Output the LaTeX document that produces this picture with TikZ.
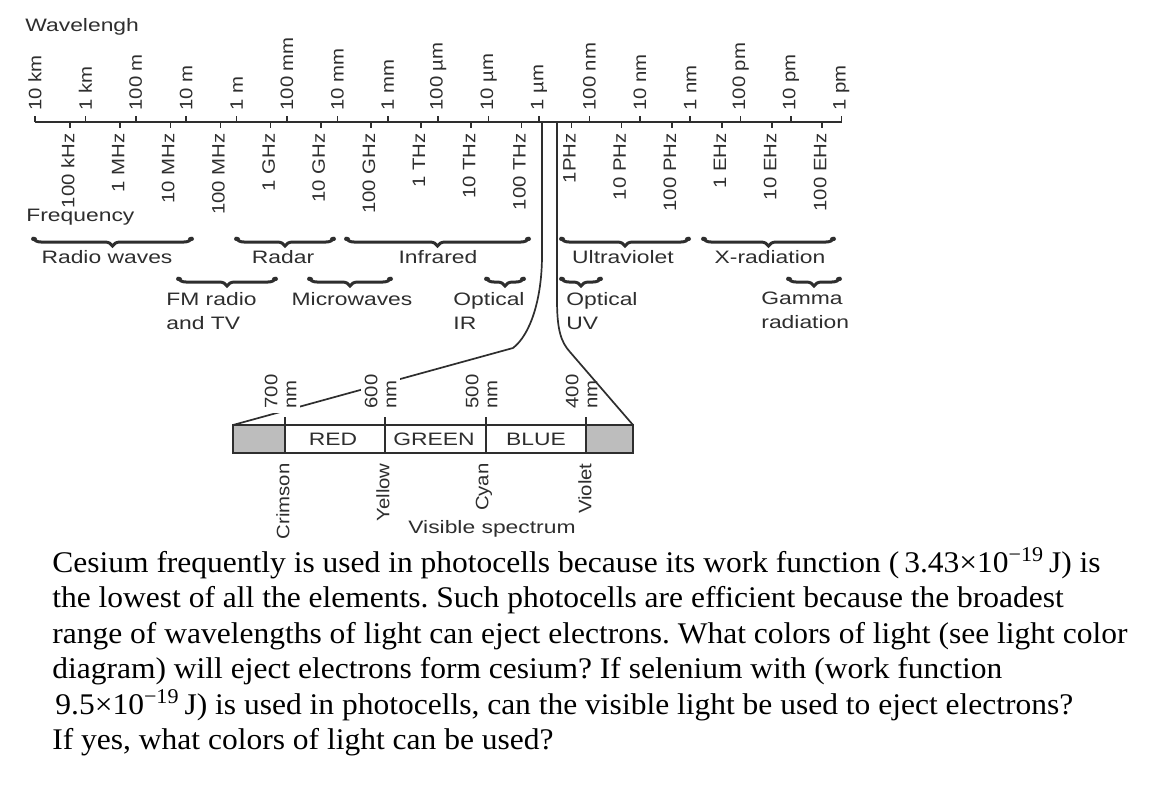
\documentclass[tikz,border=0pt]{standalone}
\usepackage{fontspec}
\setmainfont{Liberation Serif}[FakeStretch=1.05]
\newfontfamily\hfont{Liberation Sans}[FakeStretch=1.27]
\newfontfamily\vfont{Liberation Sans}[FakeStretch=1.13]
\usetikzlibrary{decorations.pathreplacing,calc}
\definecolor{ink}{gray}{0.18}
\definecolor{boxgray}{gray}{0.74}
\frenchspacing
\begin{document}
\begin{tikzpicture}[x=0.5pt,y=-0.5pt,
  htext/.style={font=\hfont\fontsize{9pt}{12pt}\selectfont, text=ink, inner sep=0pt},
  hml/.style={htext, align=left, anchor=north west},
  vtext/.style={font=\vfont\fontsize{9pt}{9.5pt}\selectfont, text=ink, inner sep=1pt, rotate=90},
  wlab/.style={vtext, anchor=west},
  flab/.style={vtext, anchor=east},
  axisline/.style={draw=ink, line width=0.9pt},
  tickline/.style={draw=ink, line width=0.8pt},
  bracestyle/.style={draw=ink, line width=1.5pt, line cap=round, decorate,
     decoration={brace, amplitude=4pt, mirror}},
  blob/.style={fill=ink},
  funnel/.style={draw=ink, line width=0.85pt},
  boxline/.style={draw=ink, line width=0.8pt},
  qtext/.style={font=\fontsize{15pt}{18pt}\selectfont, text=black, inner sep=0pt, anchor=base west}
]
\fill[white] (0,0) rectangle (1171,803);
\useasboundingbox (0,0) rectangle (1171,803);

% titles
\node[htext, anchor=west] (wtitle) at (25,27) {Wavelengh};
\node[htext, anchor=west] (ftitle) at (26,217) {Frequency};

% axis
\coordinate (axL) at (35,122);
\coordinate (axR) at (842,122);
\draw[axisline] (axL) -- (axR);

% wavelength ticks
\foreach \lab [count=\i from 0] in {10 km,1 km,100 m,10 m,1 m,100 mm,10 mm,1 mm,100 µm,10 µm,1 µm,100 nm,10 nm,1 nm,100 pm,10 pm,1 pm}{
  \coordinate (w\i) at ({35+50.4*\i},122);
  \draw[tickline] (w\i) -- ++(0,-6);
  \node[wlab] (wl\i) at ($(w\i)+(0,-9)$) {\lab};
}
% frequency ticks
\foreach \lab [count=\i from 0] in {100 kHz,1 MHz,10 MHz,100 MHz,1 GHz,10 GHz,100 GHz,1 THz,10 THz,100 THz,1PHz,10 PHz,100 PHz,1 EHz,10 EHz,100 EHz}{
  \coordinate (f\i) at ({70+50.15*\i},122);
  \draw[tickline] (f\i) -- ++(0,6);
  \node[flab] (fl\i) at ($(f\i)+(-2,9)$) {\lab};
}

% braces row 1
\coordinate (b1a) at (33,238);  \coordinate (b1b) at (192,238);
\coordinate (b2a) at (236,238); \coordinate (b2b) at (334,238);
\coordinate (b3a) at (346,238); \coordinate (b3b) at (529,238);
\coordinate (b4a) at (561,238); \coordinate (b4b) at (689,238);
\coordinate (b5a) at (703,238); \coordinate (b5b) at (834,238);
% braces row 2
\coordinate (c1a) at (178,278); \coordinate (c1b) at (276,278);
\coordinate (c2a) at (309,278); \coordinate (c2b) at (391,278);
\coordinate (c3a) at (486,278); \coordinate (c3b) at (524,278);
\coordinate (c4a) at (561,278); \coordinate (c4b) at (601,278);
\coordinate (c5a) at (788,278); \coordinate (c5b) at (840,278);
\foreach \p in {b1,b2,b3,b4,b5,c1,c2,c3,c4,c5}{
  \draw[bracestyle] (\p a) -- (\p b);
  \fill[blob] ($(\p a)+(1,1)$) ellipse [x radius=3, y radius=2.2];
  \fill[blob] ($(\p b)+(-1,1)$) ellipse [x radius=3, y radius=2.2];
}
\node[htext] (radio) at (107,257) {Radio waves};
\node[htext] (radar) at (283,257) {Radar};
\node[htext] (infra) at (438,257) {Infrared};
\node[htext] (ultra) at (623,257) {Ultraviolet};
\node[htext] (xray) at (770,257) {X-radiation};

\node[hml] (fm) at (166,292) {FM radio\\and TV};
\node[htext] (micro) at (352,299) {Microwaves};
\node[hml] (oir) at (453,292) {Optical\\IR};
\node[hml] (ouv) at (566,292) {Optical\\UV};
\node[hml] (gamma) at (761,292) {Gamma\\radiation};

% visible spectrum box
\coordinate (vtl) at (233,425);
\coordinate (vtr) at (633,425);
\coordinate (vbr) at (633,453);
\coordinate (um) at (542,122);
\coordinate (ph) at (557,122);
\draw[funnel] (um) -- (542,255) .. controls (542,300) and (530,335) .. (513,348) -- (vtl);

\fill[boxgray] (vtl) rectangle (285,453);
\fill[boxgray] (586,425) rectangle (vbr);
\draw[boxline] (vtl) rectangle (vbr);
\foreach \x/\n in {285/d7,385/d6,486/d5,586/d4}{
  \coordinate (\n) at (\x,417);
  \draw[boxline] (\n) -- (\x,453);
}
\node[vtext, anchor=west, align=left, fill=white, inner sep=2pt] (n700) at (280.5,413) {700\\nm};
\node[vtext, anchor=west, align=left, fill=white, inner sep=2pt] (n600) at (380.5,413) {600\\nm};
\node[vtext, anchor=west, align=left, inner sep=2pt] (n500) at (481.5,413) {500\\nm};
\node[vtext, anchor=west, align=left, inner sep=2pt] (n400) at (581.5,413) {400\\nm};
\draw[funnel] (ph) -- (557,300) .. controls (557,330) and (561,342) .. (570,352) -- (vtr);

\node[htext] (red) at (333,439) {RED};
\node[htext] (green) at (434,439) {GREEN};
\node[htext] (blue) at (536,439) {BLUE};

\node[flab] (crimson) at (283,461) {Crimson};
\node[flab] (yellow) at (383,461) {Yellow};
\node[flab] (cyan) at (484,461) {Cyan};
\node[flab] (violet) at (585,461) {Violet};
\node[htext] (vis) at (492,529) {Visible spectrum};

% question text
\node[qtext] (q1) at (52,572) {Cesium frequently is used in photocells because its work function (\,3.43×10\textsuperscript{−19}\,J) is};
\node[qtext] (q2) at (52,607.5) {the lowest of all the elements. Such photocells are efficient because the broadest};
\node[qtext] (q3) at (52,643) {range of wavelengths of light can eject electrons. What colors of light (see light color};
\node[qtext] (q4) at (52,678.5) {diagram) will eject electrons form cesium? If selenium with (work function};
\node[qtext] (q5) at (55,714) {9.5×10\textsuperscript{−19}\,J) is used in photocells, can the visible light be used to eject electrons?};
\node[qtext] (q6) at (52,749.5) {If yes, what colors of light can be used?};
\end{tikzpicture}
\end{document}
